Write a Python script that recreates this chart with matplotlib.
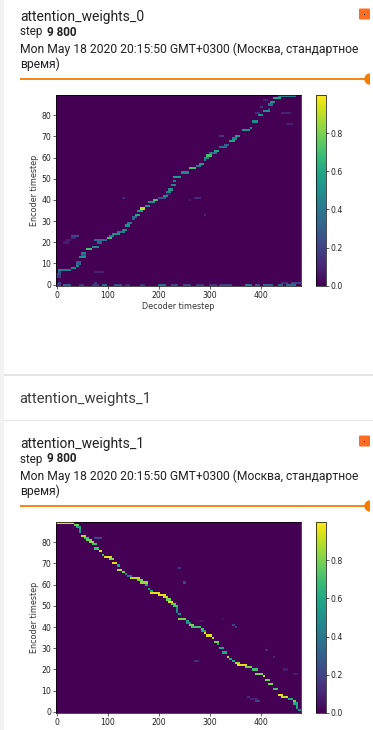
import matplotlib
matplotlib.use('Agg')
import matplotlib.pyplot as plt
from matplotlib.patches import Circle, FancyBboxPatch, Rectangle
import numpy as np

W, H = 373, 730

# attention path of the first plot, one entry per horizontal run of cells
enc_0 = [4, 5, 6, 7, 8, 9, 10, 11, 13, 14, 15, 17, 18, 20, 21, 22, 23, 24, 25, 26, 28, 29, 31, 32, 33, 35, 36, 37, 39,
         40, 41, 42, 44, 45, 47, 49, 51, 53, 55, 56, 57, 59, 60, 61, 62, 63, 65, 66, 68, 69, 70, 73, 74, 77, 80, 82,
         83, 85, 86, 88, 89]
start_0 = [3, 3, 5, 5, 30, 40, 43, 44, 47, 52, 52, 60, 70, 80, 78, 100, 108, 113, 122, 132, 138, 140, 150, 150, 155,
           162, 168, 175, 183, 192, 200, 212, 218, 222, 228, 232, 234, 248, 262, 275, 284, 290, 293, 298, 304, 314,
           322, 330, 342, 348, 352, 366, 380, 385, 396, 405, 415, 418, 422, 428, 435]
end_0 = [8, 10, 10, 30, 38, 45, 46, 47, 56, 57, 58, 70, 82, 90, 98, 108, 115, 125, 132, 137, 145, 146, 155, 157, 165,
         168, 173, 183, 192, 200, 212, 218, 224, 228, 233, 235, 245, 258, 274, 284, 290, 294, 298, 304, 314, 320,
         335, 340, 348, 352, 360, 380, 385, 393, 402, 418, 420, 422, 426, 438, 470]
weight_0 = [.15, .2, .25, .4, .45, .45, .3, .3, .5, .3, .45, .7, .45, .3, .35, .7, .4, .5, .4, .45, .5, .4, .35, .35,
            .6, .55, .9, .5, .5, .7, .25, .5, .4, .5, .45, .4, .55, .45, .7, .4, .55, .4, .5, .7, .4, .6, .35, .3,
            .6, .45, .55, .5, .5, .5, .5, .5, .2, .35, .5, .6, .4]

# faint stray cells and the noisy bottom row of the first plot
stray_enc_0 = [23, 22, 21, 20, 1, 1, 1, 0, 0, 0, 0, 0, 0, 0, 0, 0, 0, 0, 0, 0, 0, 0, 0, 0, 0, 0, 1, 1, 41, 40, 81, 81,
               84, 87, 76, 70, 43, 41, 6, 33]
stray_start_0 = [32, 30, 20, 15, 5, 75, 440, 0, 15, 45, 72, 90, 115, 135, 165, 200, 225, 250, 275, 300, 320, 370, 392,
                 405, 435, 450, 460, 470, 270, 260, 390, 440, 400, 405, 450, 322, 215, 130, 78, 290]
stray_end_0 = [42, 36, 30, 22, 10, 80, 455, 10, 30, 55, 85, 100, 130, 145, 175, 212, 240, 262, 290, 315, 345, 385, 400,
               425, 445, 470, 470, 478, 285, 265, 398, 460, 404, 412, 465, 326, 225, 135, 95, 295]
stray_weight_0 = [.22, .12, .08, .08, .2, .15, .12, .15, .3, .15, .15, .35, .25, .12, .15, .35, .2, .2, .15, .15, .2,
                  .4, .25, .3, .3, .35, .2, .2, .12, .08, .12, .1, .15, .1, .08, .15, .1, .1, .1, .1]

# attention path of the second plot
enc_1 = [89, 88, 87, 86, 85, 83, 82, 81, 80, 79, 77, 76, 74, 73, 72, 70, 69, 67, 66, 65, 64, 63, 62, 61, 60, 58, 57,
         56, 55, 54, 53, 52, 51, 50, 49, 48, 47, 46, 44, 43, 42, 41, 40, 39, 38, 37, 36, 35, 33, 32, 30, 28, 26, 25,
         24, 23, 22, 21, 20, 18, 17, 15, 13, 11, 8, 7, 6, 5, 4, 3, 2, 1]
start_1 = [0, 35, 42, 46, 48, 52, 57, 60, 68, 74, 78, 85, 90, 95, 107, 113, 120, 124, 130, 135, 140, 148, 160, 168,
           175, 180, 185, 188, 202, 212, 216, 222, 228, 232, 236, 236, 238, 240, 244, 255, 258, 262, 268, 285, 288,
           290, 295, 305, 312, 316, 322, 328, 335, 340, 345, 350, 357, 372, 385, 392, 405, 412, 418, 428, 435, 442,
           455, 465, 468, 470, 472, 475]
end_1 = [35, 42, 46, 50, 50, 57, 62, 70, 74, 78, 85, 90, 94, 107, 113, 120, 124, 128, 135, 140, 150, 165, 170, 176,
         178, 185, 188, 202, 212, 216, 222, 228, 232, 236, 240, 240, 240, 244, 255, 258, 262, 268, 285, 290, 292,
         295, 305, 310, 318, 320, 326, 333, 340, 345, 350, 357, 372, 385, 392, 402, 410, 416, 424, 432, 442, 455,
         465, 468, 472, 474, 475, 477]
weight_1 = [.95, .8, .6, .6, .5, .9, .7, .8, .85, .7, .7, .95, .7, .95, .8, .95, .6, .9, .8, .5, .4, .9, .8, .85, .6,
            .6, .6, .95, .95, .9, .8, .95, .75, .7, .5, .5, .45, .5, .8, .6, .5, .8, .7, .7, .6, .95, .95, .9, .8,
            .6, .6, .6, .9, .6, .6, .85, .95, .8, .7, .8, .9, .8, .8, .7, .95, .9, .6, .8, .6, .6, .6, .5]

stray_enc_1 = [82, 82, 68, 61, 41, 40, 29, 26, 24, 7, 6, 5, 6, 20, 18, 43, 44]
stray_start_1 = [78, 82, 240, 250, 345, 350, 410, 425, 272, 375, 380, 392, 455, 448, 465, 282, 325]
stray_end_1 = [82, 86, 244, 255, 350, 354, 415, 429, 276, 380, 392, 398, 465, 455, 472, 286, 330]
stray_weight_1 = [.2, .2, .15, .2, .2, .2, .12, .12, .12, .12, .1, .2, .35, .08, .08, .06, .05]

enc_ticks = [0, 10, 20, 30, 40, 50, 60, 70, 80]
dec_ticks = [0, 100, 200, 300, 400]
cbar_ticks = [0.0, 0.2, 0.4, 0.6, 0.8]

n_enc, n_dec, dec_step = 90, 96, 5

card_titles = ['attention_weights_0', 'attention_weights_1']
step_text = '9 800'
date_text = 'Mon May 18 2020 20:15:50 GMT+0300 (Москва, стандартное\nвремя)'


def build_matrix(enc, start, end, weight):
    mat = np.zeros((n_enc, n_dec))
    for e, s, t, w in zip(enc, start, end, weight):
        first = s // dec_step
        last = max(first + 1, int(np.ceil(t / dec_step)))
        mat[e, first:last] = np.maximum(mat[e, first:last], w)
    return mat


def px_axes(fig, left, top, right, bottom):
    return fig.add_axes([left / W, 1 - bottom / H, (right - left) / W, (bottom - top) / H])


def draw_heatmap(fig, mat, top, bottom, xlabel):
    ax = px_axes(fig, 56, top, 300.7, bottom)
    im = ax.imshow(mat, aspect='auto', origin='lower', cmap='viridis', vmin=0, vmax=1,
                   extent=(-2, 478, -0.5, 89.5), interpolation='nearest')
    ax.set_xlim(-1.5, 478)
    ax.set_xticks(dec_ticks)
    ax.set_yticks(enc_ticks)
    ax.tick_params(labelsize=5.6, length=2, width=0.5, pad=1.5, colors='#222222')
    ax.set_ylabel('Encoder timestep', fontsize=5.8, labelpad=1.5, color='#333333')
    if xlabel:
        ax.set_xlabel('Decoder timestep', fontsize=5.8, labelpad=1.5, color='#333333')
    for spine in ax.spines.values():
        spine.set_linewidth(0.5)

    cax = px_axes(fig, 316, top, 325.7, bottom)
    cbar = fig.colorbar(im, cax=cax)
    cbar.set_ticks(cbar_ticks)
    cbar.ax.tick_params(labelsize=5.6, length=2, width=0.5, pad=1.5, colors='#222222')
    cbar.outline.set_linewidth(0.5)


def draw_header(bg, title, y):
    # y is the top of the card text block in pixels
    bg.text(20, y + 7, title, fontsize=10, family='Roboto', va='center', color='#212121')
    bg.text(20, y + 22, 'step ', fontsize=8.4, family='Roboto', va='center', color='#212121')
    bg.text(47, y + 22, step_text, fontsize=8.4, family='Roboto', weight='bold', va='center', color='#212121')
    bg.text(20, y + 47, date_text, fontsize=8.7, family='Roboto', va='center', color='#212121', linespacing=1.15)
    bg.plot([20, 365], [y + 69, y + 69], color='#f57c00', lw=1.3, solid_capstyle='butt')
    bg.add_patch(Circle((370, y + 69), 5, color='#f57c00'))
    bg.add_patch(Rectangle((370, y + 60), 3, 18, fc='white', ec='none', zorder=3))
    bg.add_patch(FancyBboxPatch((360, y - 0.5), 9, 9, boxstyle='round,pad=1', fc='#ff6d22', ec='none'))
    bg.add_patch(Rectangle((364, y + 3.5), 1, 1, fc='#222222', ec='none'))


fig = plt.figure(figsize=(W / 100, H / 100), dpi=100, facecolor='white')

# page chrome drawn in pixel coordinates
bg = fig.add_axes([0, 0, 1, 1])
bg.set_xlim(0, W)
bg.set_ylim(H, 0)
bg.axis('off')
bg.add_patch(Rectangle((0, 0), 4, H, fc='#f3f3f3', ec='none'))
bg.add_patch(Rectangle((4, 373.5), W, 2, fc='#e4e4e4', ec='none'))
bg.add_patch(Rectangle((4, 419.5), W, 1.5, fc='#e6e6e6', ec='none'))
bg.text(19, 399, card_titles[1], fontsize=10.65, family='Roboto', va='center', color='#3c3c3c')

draw_header(bg, card_titles[0], 10)
draw_header(bg, card_titles[1], 437)

mat_0 = build_matrix(enc_0 + stray_enc_0, start_0 + stray_start_0, end_0 + stray_end_0, weight_0 + stray_weight_0)
mat_1 = build_matrix(enc_1 + stray_enc_1, start_1 + stray_start_1, end_1 + stray_end_1, weight_1 + stray_weight_1)

draw_heatmap(fig, mat_0, 95, 285.7, True)
draw_heatmap(fig, mat_1, 522, 713, False)

plt.savefig('out.png', dpi=100)
plt.close()
